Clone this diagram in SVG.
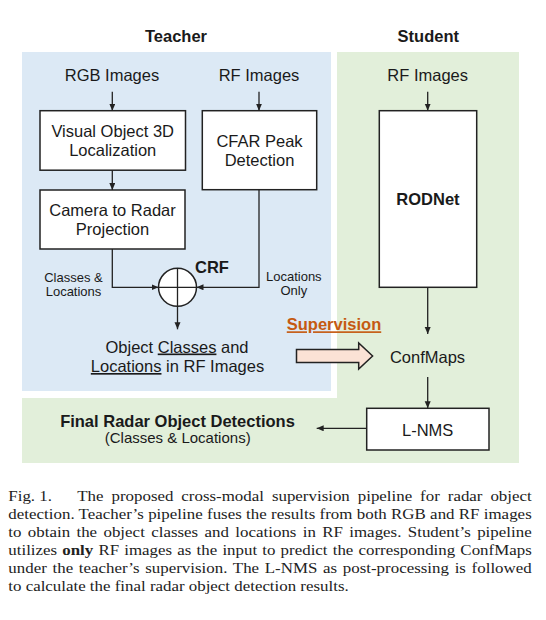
<svg xmlns="http://www.w3.org/2000/svg" width="546" height="620" viewBox="0 0 546 620">
<style>
.t{font-family:"Liberation Sans",Arial,sans-serif;font-size:16.5px;fill:#1a1a1a;text-anchor:middle}
.b{font-weight:bold}
.s{font-size:13px}
.box{fill:#fff;stroke:#222;stroke-width:1.5}
.ln{fill:none;stroke:#222;stroke-width:1.3}
.cap{font-family:"Liberation Serif","Times New Roman",serif;font-size:15.5px;fill:#222}
</style>
<defs>
<marker id="ah" markerUnits="userSpaceOnUse" markerWidth="8" markerHeight="7" refX="7" refY="3" orient="auto">
<path d="M0,0 L7,3 L0,6 Z" fill="#222"/>
</marker>
</defs>
<rect width="546" height="620" fill="#fff"/>
<g id="panels">
<rect id="teacher-panel" x="22" y="52" width="309" height="339" fill="#dce9f5"/>
<path id="student-panel" d="M337 52 H519 V463 H22 V398 H337 Z" fill="#e2efda"/>
</g>
<g id="titles">
<text class="t b" x="176" y="41.5">Teacher</text>
<text class="t b" x="428.3" y="41.5">Student</text>
</g>
<g id="rgb-images"><text class="t" x="112" y="80.5">RGB Images</text></g>
<g id="rf-images-teacher"><text class="t" x="259" y="80.5">RF Images</text></g>
<g id="rf-images-student"><text class="t" x="427.7" y="80.5">RF Images</text></g>
<g id="visual-object">
<rect class="box" x="40" y="110.7" width="145.5" height="59.5"/>
<text class="t" x="112.7" y="137">Visual Object 3D</text>
<text class="t" x="112.7" y="156">Localization</text>
</g>
<g id="camera-radar">
<rect class="box" x="40" y="190" width="145" height="59"/>
<text class="t" x="112.5" y="215.7">Camera to Radar</text>
<text class="t" x="112.5" y="235">Projection</text>
</g>
<g id="cfar">
<rect class="box" x="202.3" y="110.7" width="114.4" height="79"/>
<text class="t" x="259.5" y="147">CFAR Peak</text>
<text class="t" x="259.5" y="166">Detection</text>
</g>
<g id="crf">
<circle cx="177.5" cy="287.3" r="19" fill="#fff" stroke="#222" stroke-width="1.5"/>
<path d="M158.5 287.3 H196.5 M177.5 268.3 V306.3" stroke="#222" stroke-width="1.3"/>
<text class="t b" x="195" y="273" style="text-anchor:start">CRF</text>
</g>
<g id="teacher-output">
<text class="t" x="177" y="352.5">Object <tspan text-decoration="underline">Classes</tspan> and</text>
<text class="t" x="177.5" y="372"><tspan text-decoration="underline">Locations</tspan> in RF Images</text>
</g>
<g id="rodnet">
<rect class="box" x="379.3" y="110.7" width="97.4" height="176.6"/>
<text class="t b" x="428" y="205">RODNet</text>
</g>
<g id="confmaps"><text class="t" x="427.5" y="363">ConfMaps</text></g>
<g id="lnms">
<rect class="box" x="366.7" y="408.3" width="122.3" height="41.7"/>
<text class="t" x="427.7" y="435.5">L-NMS</text>
</g>
<g id="final-detections">
<text class="t b" x="177.5" y="426.5">Final Radar Object Detections</text>
<text class="t" x="177.7" y="442.5" style="font-size:15px">(Classes &amp; Locations)</text>
</g>
<g id="supervision">
<polygon points="296.5,349.5 358.7,349.5 358.7,343 372.6,356 358.7,369 358.7,362.5 296.5,362.5" fill="#fbe2d5" stroke="#222" stroke-width="1.5"/>
<text class="t b" x="334" y="330.3" fill="#c55a11" style="fill:#c55a11" text-decoration="underline">Supervision</text>
</g>
<g id="connectors">
<path class="ln" d="M112.3 91.7 V110.7" marker-end="url(#ah)"/>
<path class="ln" d="M112.3 170.2 V190" marker-end="url(#ah)"/>
<path class="ln" d="M259 91.7 V110.7" marker-end="url(#ah)"/>
<path class="ln" d="M112.3 249 V287.3 H158.5" marker-end="url(#ah)"/>
<path class="ln" d="M259 189.7 V287.3 H196.5" marker-end="url(#ah)"/>
<path class="ln" d="M177.5 306.3 V329.3" marker-end="url(#ah)"/>
<path class="ln" d="M427.7 91.7 V110.7" marker-end="url(#ah)"/>
<path class="ln" d="M427.7 287.3 V334" marker-end="url(#ah)"/>
<path class="ln" d="M427.7 377 V408.3" marker-end="url(#ah)"/>
<path class="ln" d="M366.7 428.3 H316.7" marker-end="url(#ah)"/>
<text class="t s" x="73.5" y="282">Classes &amp;</text>
<text class="t s" x="73.5" y="296">Locations</text>
<text class="t s" x="293.8" y="280.5">Locations</text>
<text class="t s" x="293.8" y="295">Only</text>
</g>
<g id="caption" transform="translate(8.3 0) scale(1.09 1)">
<text class="cap" x="0" y="501">Fig. 1.</text>
<text class="cap" x="63.3" y="501" word-spacing="3.4" textLength="416.9" lengthAdjust="spacing">The proposed cross-modal supervision pipeline for radar object</text>
<text class="cap" x="0" y="519.1" textLength="480.2" lengthAdjust="spacing">detection. Teacher’s pipeline fuses the results from both RGB and RF images</text>
<text class="cap" x="0" y="537.2" word-spacing="1.9" textLength="480.2" lengthAdjust="spacing">to obtain the object classes and locations in RF images. Student’s pipeline</text>
<text class="cap" x="0" y="555.3" word-spacing="0.87" textLength="480.2" lengthAdjust="spacing">utilizes <tspan font-weight="bold">only</tspan> RF images as the input to predict the corresponding ConfMaps</text>
<text class="cap" x="0" y="573.4" word-spacing="1.3" textLength="480.2" lengthAdjust="spacing">under the teacher’s supervision. The L-NMS as post-processing is followed</text>
<text class="cap" x="0" y="591.5">to calculate the final radar object detection results.</text>
</g>
</svg>
